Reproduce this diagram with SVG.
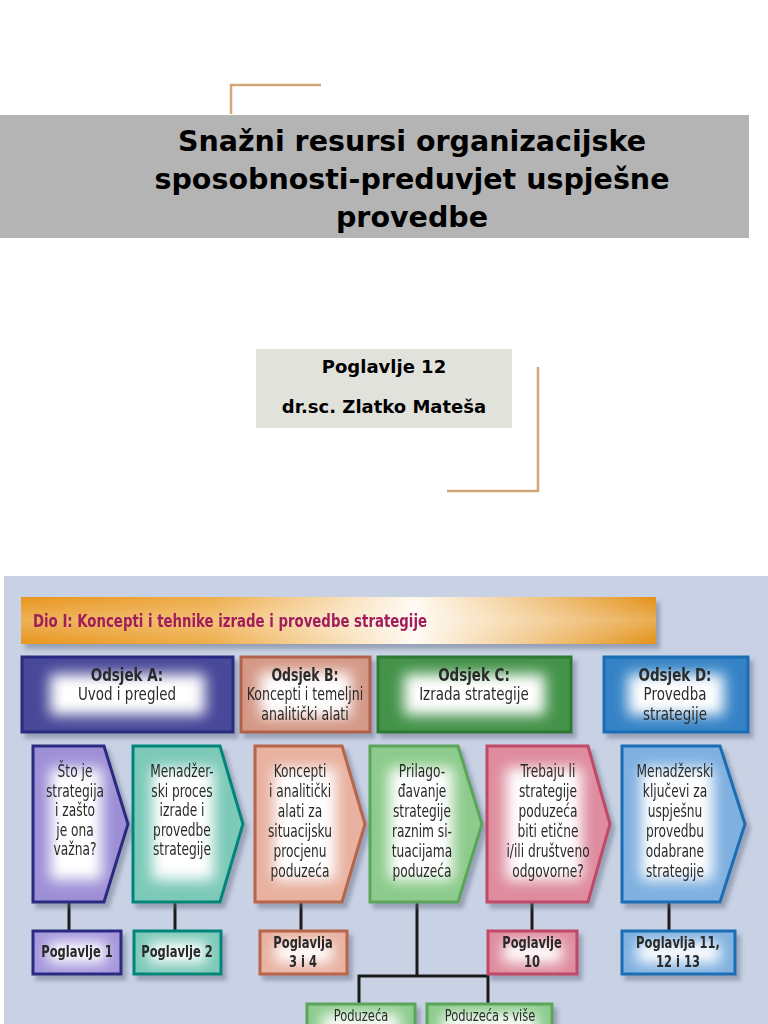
<svg xmlns="http://www.w3.org/2000/svg" width="768" height="1024" viewBox="0 0 768 1024">
<defs>
<style>
.t{font-family:"DejaVu Sans",sans-serif;font-weight:bold;fill:#000;text-anchor:middle}
.c{font-family:"DejaVu Sans Condensed","DejaVu Sans","Liberation Sans",sans-serif;font-stretch:condensed;fill:#2a2a2a;text-anchor:middle}
.cb{font-weight:bold}
.br{fill:none;stroke:#d2a878;stroke-width:2.5}
.ln{fill:none;stroke:#1a1a1a;stroke-width:3}
.gl{fill:#fff;filter:url(#blur)}
</style>
<filter id="sh" x="-10%" y="-10%" width="130%" height="130%"><feDropShadow dx="4" dy="5" stdDeviation="2" flood-color="#5a6580" flood-opacity="0.45"/></filter>
<filter id="blur" x="-50%" y="-50%" width="200%" height="200%"><feGaussianBlur stdDeviation="7"/></filter>
<linearGradient id="gBar" x1="0" y1="0" x2="1" y2="0">
<stop offset="0" stop-color="#e8961e"/><stop offset="0.3" stop-color="#eead4a"/><stop offset="0.62" stop-color="#fffaf2"/><stop offset="1" stop-color="#e3921a"/>
</linearGradient>
<linearGradient id="gBarV" x1="0" y1="0" x2="0" y2="1">
<stop offset="0" stop-color="#fff" stop-opacity="0"/><stop offset="0.5" stop-color="#fff" stop-opacity="0.25"/><stop offset="1" stop-color="#fff" stop-opacity="0"/>
</linearGradient>
</defs>
<rect width="768" height="1024" fill="#fff"/>

<g id="title">
<path class="br" d="M231,114 V85 H321"/>
<rect x="0" y="115" width="749" height="123" fill="#b4b4b4"/>
<text class="t" font-size="28.5" x="412" y="151">Snažni resursi organizacijske</text>
<text class="t" font-size="28.5" x="412" y="189">sposobnosti-preduvjet uspješne</text>
<text class="t" font-size="28.5" x="412" y="227">provedbe</text>
</g>

<g id="subtitle">
<rect x="256" y="349" width="256" height="79" fill="#e2e2dc"/>
<text class="t" font-size="18" x="384" y="373">Poglavlje 12</text>
<text class="t" font-size="18" x="384" y="413">dr.sc. Zlatko Mateša</text>
<path class="br" d="M538,367 V491 H447"/>
</g>

<rect x="4" y="576" width="764" height="448" fill="#c8d2e4"/>

<g id="connectors">
<path class="ln" d="M69,902 V931 M175,902 V931 M301,902 V931 M532,902 V931 M669,902 V931"/>
<path class="ln" d="M417,902 V976 M359,1003 V976 H488 V1003"/>
</g>

<g id="bar" filter="url(#sh)">
<rect x="21" y="597" width="635" height="47" fill="url(#gBar)"/>
<rect x="21" y="597" width="635" height="47" fill="url(#gBarV)"/>
<text class="c cb" font-size="17" x="33" y="627" style="text-anchor:start;fill:#a01e5a" textLength="394" lengthAdjust="spacingAndGlyphs">Dio I: Koncepti i tehnike izrade i provedbe strategije</text>
</g>

<g id="secA" filter="url(#sh)">
<rect x="22" y="657" width="211" height="75" fill="#48489a"/>
<rect class="gl" x="50" y="674" width="155" height="41"/>
<rect x="22" y="657" width="211" height="75" fill="none" stroke="#2a2a80" stroke-width="3"/>
<g transform="translate(127,0) scale(0.88,1)">
<text class="c cb" font-size="17" y="681">Odsjek A:</text>
<text class="c" font-size="17" y="700">Uvod i pregled</text>
</g>
</g>
<g id="secB" filter="url(#sh)">
<rect x="241" y="657" width="129" height="75" fill="#d49886"/>
<rect class="gl" x="260" y="672" width="91" height="45"/>
<rect x="241" y="657" width="129" height="75" fill="none" stroke="#b0624c" stroke-width="3"/>
<g transform="translate(305,0) scale(0.82,1)">
<text class="c cb" font-size="17" y="681">Odsjek B:</text>
<text class="c" font-size="17" y="700">Koncepti i temeljni</text>
<text class="c" font-size="17" y="720">analitički alati</text>
</g>
</g>
<g id="secC" filter="url(#sh)">
<rect x="378" y="657" width="193" height="75" fill="#44934a"/>
<rect class="gl" x="404" y="674" width="141" height="41"/>
<rect x="378" y="657" width="193" height="75" fill="none" stroke="#2e7a34" stroke-width="3"/>
<g transform="translate(474,0) scale(0.88,1)">
<text class="c cb" font-size="17" y="681">Odsjek C:</text>
<text class="c" font-size="17" y="700">Izrada strategije</text>
</g>
</g>
<g id="secD" filter="url(#sh)">
<rect x="604" y="657" width="144" height="75" fill="#3583c6"/>
<rect class="gl" x="628" y="674" width="96" height="41"/>
<rect x="604" y="657" width="144" height="75" fill="none" stroke="#1a6eb4" stroke-width="3"/>
<g transform="translate(675,0) scale(0.88,1)">
<text class="c cb" font-size="17" y="681">Odsjek D:</text>
<text class="c" font-size="17" y="700">Provedba</text>
<text class="c" font-size="17" y="720">strategije</text>
</g>
</g>

<g id="ch1" filter="url(#sh)">
<path d="M33,746 H104 L128,824 L104,902 H33 Z" fill="#9d8fd6"/>
<rect class="gl" x="50" y="768" width="52" height="112"/>
<path d="M33,746 H104 L128,824 L104,902 H33 Z" fill="none" stroke="#2a2a80" stroke-width="3"/>
<g transform="translate(75,0) scale(0.8,1)">
<text class="c" font-size="17" y="777">Što je</text>
<text class="c" font-size="17" y="797">strategija</text>
<text class="c" font-size="17" y="816">i zašto</text>
<text class="c" font-size="17" y="836">je ona</text>
<text class="c" font-size="17" y="855">važna?</text>
</g>
</g>
<g id="ch2" filter="url(#sh)">
<path d="M133,746 H220 L243,824 L220,902 H133 Z" fill="#7cc9b8"/>
<rect class="gl" x="152" y="768" width="62" height="112"/>
<path d="M133,746 H220 L243,824 L220,902 H133 Z" fill="none" stroke="#00857a" stroke-width="3"/>
<g transform="translate(182,0) scale(0.8,1)">
<text class="c" font-size="17" y="777">Menadžer-</text>
<text class="c" font-size="17" y="797">ski proces</text>
<text class="c" font-size="17" y="816">izrade i</text>
<text class="c" font-size="17" y="836">provedbe</text>
<text class="c" font-size="17" y="855">strategije</text>
</g>
</g>
<g id="ch3" filter="url(#sh)">
<path d="M255,746 H342 L365,824 L342,902 H255 Z" fill="#e8b1a0"/>
<rect class="gl" x="274" y="768" width="62" height="112"/>
<path d="M255,746 H342 L365,824 L342,902 H255 Z" fill="none" stroke="#b8654a" stroke-width="3"/>
<g transform="translate(300,0) scale(0.8,1)">
<text class="c" font-size="17" y="777">Koncepti</text>
<text class="c" font-size="17" y="797">i analitički</text>
<text class="c" font-size="17" y="817">alati za</text>
<text class="c" font-size="17" y="837">situacijsku</text>
<text class="c" font-size="17" y="857">procjenu</text>
<text class="c" font-size="17" y="877">poduzeća</text>
</g>
</g>
<g id="ch4" filter="url(#sh)">
<path d="M370,746 H458 L482,824 L458,902 H370 Z" fill="#8ccb8c"/>
<rect class="gl" x="389" y="768" width="64" height="112"/>
<path d="M370,746 H458 L482,824 L458,902 H370 Z" fill="none" stroke="#5aa55a" stroke-width="3"/>
<g transform="translate(422,0) scale(0.8,1)">
<text class="c" font-size="17" y="777">Prilago-</text>
<text class="c" font-size="17" y="797">đavanje</text>
<text class="c" font-size="17" y="817">strategije</text>
<text class="c" font-size="17" y="837">raznim si-</text>
<text class="c" font-size="17" y="857">tuacijama</text>
<text class="c" font-size="17" y="877">poduzeća</text>
</g>
</g>
<g id="ch5" filter="url(#sh)">
<path d="M487,746 H588 L610,824 L588,902 H487 Z" fill="#de8c9e"/>
<rect class="gl" x="506" y="768" width="76" height="112"/>
<path d="M487,746 H588 L610,824 L588,902 H487 Z" fill="none" stroke="#c04868" stroke-width="3"/>
<g transform="translate(548,0) scale(0.8,1)">
<text class="c" font-size="17" y="777">Trebaju li</text>
<text class="c" font-size="17" y="797">strategije</text>
<text class="c" font-size="17" y="817">poduzeća</text>
<text class="c" font-size="17" y="837">biti etične</text>
<text class="c" font-size="17" y="857">i/ili društveno</text>
<text class="c" font-size="17" y="877">odgovorne?</text>
</g>
</g>
<g id="ch6" filter="url(#sh)">
<path d="M622,746 H720 L745,824 L720,902 H622 Z" fill="#7fb0e0"/>
<rect class="gl" x="641" y="768" width="72" height="112"/>
<path d="M622,746 H720 L745,824 L720,902 H622 Z" fill="none" stroke="#1a6eb4" stroke-width="3"/>
<g transform="translate(675,0) scale(0.8,1)">
<text class="c" font-size="17" y="777">Menadžerski</text>
<text class="c" font-size="17" y="797">ključevi za</text>
<text class="c" font-size="17" y="817">uspješnu</text>
<text class="c" font-size="17" y="837">provedbu</text>
<text class="c" font-size="17" y="857">odabrane</text>
<text class="c" font-size="17" y="877">strategije</text>
</g>
</g>

<g id="p1" filter="url(#sh)">
<rect x="33" y="931" width="88" height="43" fill="#a597dc"/>
<rect class="gl" x="48" y="942" width="58" height="21"/>
<rect x="33" y="931" width="88" height="43" fill="none" stroke="#2a2a80" stroke-width="3"/>
<text class="c cb" font-size="16" x="0" y="957" transform="translate(77,0) scale(0.8,1)">Poglavlje 1</text>
</g>
<g id="p2" filter="url(#sh)">
<rect x="134" y="931" width="87" height="43" fill="#7cc9b8"/>
<rect class="gl" x="149" y="942" width="57" height="21"/>
<rect x="134" y="931" width="87" height="43" fill="none" stroke="#00857a" stroke-width="3"/>
<text class="c cb" font-size="16" x="0" y="957" transform="translate(177,0) scale(0.8,1)">Poglavlje 2</text>
</g>
<g id="p3" filter="url(#sh)">
<rect x="260" y="931" width="87" height="43" fill="#e8b1a0"/>
<rect class="gl" x="275" y="942" width="57" height="21"/>
<rect x="260" y="931" width="87" height="43" fill="none" stroke="#b8654a" stroke-width="3"/>
<g transform="translate(303,0) scale(0.8,1)">
<text class="c cb" font-size="16" y="948">Poglavlja</text>
<text class="c cb" font-size="16" y="967">3 i 4</text>
</g>
</g>
<g id="p10" filter="url(#sh)">
<rect x="488" y="931" width="89" height="43" fill="#de8c9e"/>
<rect class="gl" x="503" y="942" width="59" height="21"/>
<rect x="488" y="931" width="89" height="43" fill="none" stroke="#c04868" stroke-width="3"/>
<g transform="translate(532,0) scale(0.8,1)">
<text class="c cb" font-size="16" y="948">Poglavlje</text>
<text class="c cb" font-size="16" y="967">10</text>
</g>
</g>
<g id="p11" filter="url(#sh)">
<rect x="622" y="931" width="113" height="43" fill="#7fb0e0"/>
<rect class="gl" x="637" y="942" width="83" height="21"/>
<rect x="622" y="931" width="113" height="43" fill="none" stroke="#1a6eb4" stroke-width="3"/>
<g transform="translate(678,0) scale(0.8,1)">
<text class="c cb" font-size="16" y="948">Poglavlja 11,</text>
<text class="c cb" font-size="16" y="967">12 i 13</text>
</g>
</g>

<g id="b1" filter="url(#sh)">
<rect x="307" y="1004" width="108" height="40" fill="#8ccb8c"/>
<rect class="gl" x="322" y="1014" width="78" height="20"/>
<rect x="307" y="1004" width="108" height="40" fill="none" stroke="#5aa55a" stroke-width="3"/>
<text class="c" font-size="15" x="0" y="1021" transform="translate(361,0) scale(0.85,1)">Poduzeća</text>
</g>
<g id="b2" filter="url(#sh)">
<rect x="427" y="1004" width="125" height="40" fill="#8ccb8c"/>
<rect class="gl" x="442" y="1014" width="95" height="20"/>
<rect x="427" y="1004" width="125" height="40" fill="none" stroke="#5aa55a" stroke-width="3"/>
<text class="c" font-size="15" x="0" y="1021" transform="translate(490,0) scale(0.85,1)">Poduzeća s više</text>
</g>
</svg>
